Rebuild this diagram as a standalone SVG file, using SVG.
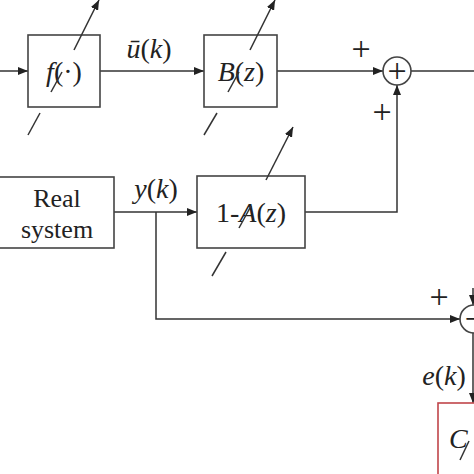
<svg xmlns="http://www.w3.org/2000/svg" width="474" height="474" viewBox="0 0 474 474">
<style>
.ln{stroke:#333;stroke-width:1.5;fill:none}
.bx{stroke:#444;stroke-width:1.6;fill:#fff}
.rd{stroke:#c0454a;stroke-width:1.6;fill:#fff}
.m{font-family:"Liberation Serif","DejaVu Serif",serif;font-size:28px;fill:#222}
.p{font-family:"Liberation Serif","DejaVu Serif",serif;font-size:34px;fill:#222}
.i{font-style:italic}
.s{font-family:"Liberation Serif","DejaVu Serif",serif;font-size:26px;fill:#222}
</style>
<defs>
<marker id="ah" viewBox="0 0 10 8" refX="10" refY="4" markerWidth="10" markerHeight="8" markerUnits="userSpaceOnUse" orient="auto">
<path d="M0,0 L10,4 L0,8 z" fill="#222"/>
</marker>
</defs>
<rect width="474" height="474" fill="#fff"/>
<g id="connectors">
<line class="ln" x1="0" y1="71" x2="28" y2="71" marker-end="url(#ah)"/>
<line class="ln" x1="100" y1="71" x2="204" y2="71" marker-end="url(#ah)"/>
<line class="ln" x1="277" y1="71" x2="383" y2="71" marker-end="url(#ah)"/>
<line class="ln" x1="411" y1="71" x2="474" y2="71"/>
<polyline class="ln" points="305,212 397,212 397,85" marker-end="url(#ah)"/>
<line class="ln" x1="114" y1="212" x2="197" y2="212" marker-end="url(#ah)"/>
<polyline class="ln" points="156,212 156,319 460,319" marker-end="url(#ah)"/>
<line class="ln" x1="473" y1="288" x2="473" y2="305" marker-end="url(#ah)"/>
<line class="ln" x1="473" y1="333" x2="473" y2="403" marker-end="url(#ah)"/>
<text class="m i" x="149" y="58" text-anchor="middle">ū<tspan font-style="normal">(</tspan>k<tspan font-style="normal">)</tspan></text>
<text class="m i" x="156" y="198" text-anchor="middle">y<tspan font-style="normal">(</tspan>k<tspan font-style="normal">)</tspan></text>
<text class="m i" x="444" y="385" text-anchor="middle">e<tspan font-style="normal">(</tspan>k<tspan font-style="normal">)</tspan></text>
<text class="p" x="361" y="60" text-anchor="middle">+</text>
<text class="p" x="382" y="123" text-anchor="middle">+</text>
<text class="p" x="439" y="308" text-anchor="middle">+</text>
</g>
<g id="f-block">
<rect class="bx" x="28" y="35" width="72" height="72"/>
<text class="m" x="64" y="81" text-anchor="middle"><tspan font-style="italic">f</tspan>(·)</text>
<line class="ln" x1="28" y1="135" x2="40" y2="113"/>
<line class="ln" x1="51" y1="92" x2="62" y2="72"/>
<line class="ln" x1="74" y1="50" x2="99" y2="0" marker-end="url(#ah)"/>
</g>
<g id="b-block">
<rect class="bx" x="204" y="35" width="73" height="72"/>
<text class="m" x="241" y="81" text-anchor="middle"><tspan font-style="italic">B</tspan>(<tspan font-style="italic">z</tspan>)</text>
<line class="ln" x1="204" y1="135" x2="217" y2="113"/>
<line class="ln" x1="228" y1="92" x2="239" y2="72"/>
<line class="ln" x1="250" y1="50" x2="275" y2="0" marker-end="url(#ah)"/>
</g>
<g id="sum-plus">
<circle class="bx" cx="397" cy="71" r="14"/>
<text class="p" x="397" y="82" text-anchor="middle">+</text>
</g>
<g id="real-system">
<rect class="bx" x="-1" y="177" width="115" height="71"/>
<text class="s" x="57" y="207" text-anchor="middle">Real</text>
<text class="s" x="57" y="238" text-anchor="middle">system</text>
</g>
<g id="a-block">
<rect class="bx" x="197" y="176" width="108" height="72"/>
<text class="m" x="251" y="222" text-anchor="middle">1-<tspan font-style="italic">A</tspan>(<tspan font-style="italic">z</tspan>)</text>
<line class="ln" x1="212" y1="276" x2="226" y2="252"/>
<line class="ln" x1="239" y1="228" x2="251" y2="206"/>
<line class="ln" x1="266" y1="180" x2="293" y2="127" marker-end="url(#ah)"/>
</g>
<g id="sum-minus">
<circle class="bx" cx="474" cy="319" r="14"/>
<text class="p" x="474" y="330" text-anchor="middle">−</text>
</g>
<g id="c-block">
<rect class="rd" x="438" y="403" width="60" height="80"/>
<text class="m i" x="449" y="448">C</text>
<line class="ln" x1="460" y1="460" x2="469" y2="441"/>
</g>
</svg>
